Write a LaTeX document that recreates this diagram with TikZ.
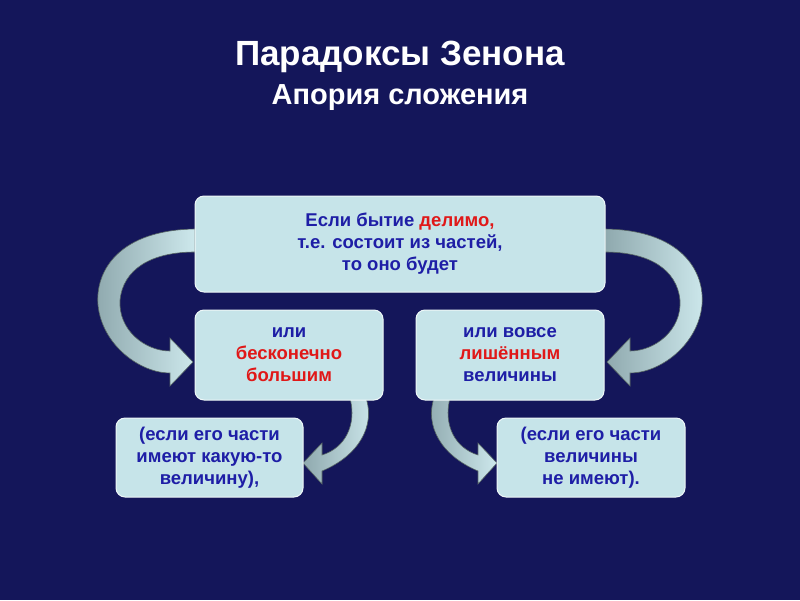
\documentclass[tikz,border=0pt]{standalone}
\usepackage{fontspec}
\setmainfont{Liberation Sans}
\definecolor{bg}{HTML}{14165A}
\definecolor{boxc}{HTML}{C6E4E9}
\definecolor{tblue}{HTML}{1E1EA6}
\definecolor{tred}{HTML}{E01818}
\definecolor{arrl}{HTML}{CDE8EC}
\definecolor{arrd}{HTML}{8FA9AE}
\tikzset{
 bx/.style={draw=white!70!boxc,line width=1pt,fill=boxc,rounded corners=9pt,align=center,
   text=tblue,font=\fontsize{18.5}{22}\selectfont\bfseries,inner sep=0pt},
 barrow/.style={draw=arrd!60!black,line width=0.6pt,left color=arrd,right color=arrl},
}
\begin{document}
\begin{tikzpicture}[x=1pt,y=-1pt]
\fill[bg] (0,0) rectangle (800,600);
\useasboundingbox (0,0) rectangle (800,600);
\node[text=white,font=\fontsize{35}{38}\selectfont\bfseries] (t1) at (400,57) {Парадоксы Зенона};
\node[text=white,font=\fontsize{29}{32}\selectfont\bfseries] (t2) at (400,98) {Апория сложения};
% arrows
\filldraw[barrow] (195,229) .. controls (120,230) and (95,270) .. (98,305) .. controls (102,345) and (140,373) .. (170,373) -- (170,386) -- (193,362) -- (170,338) -- (170,351) .. controls (145,351) and (118,330) .. (120,300) .. controls (123,270) and (150,252) .. (195,252) -- cycle;
\begin{scope}[xshift=800pt,xscale=-1]
\filldraw[barrow] (195,229) .. controls (120,230) and (95,270) .. (98,305) .. controls (102,345) and (140,373) .. (170,373) -- (170,386) -- (193,362) -- (170,338) -- (170,351) .. controls (145,351) and (118,330) .. (120,300) .. controls (123,270) and (150,252) .. (195,252) -- cycle;
\filldraw[barrow] (366,398) .. controls (375,425) and (360,455) .. (322,471) -- (322,484) -- (303,463) -- (322,443) -- (322,455) .. controls (345,448) and (357,425) .. (350,398) -- cycle;
\end{scope}
\filldraw[barrow] (366,398) .. controls (375,425) and (360,455) .. (322,471) -- (322,484) -- (303,463) -- (322,443) -- (322,455) .. controls (345,448) and (357,425) .. (350,398) -- cycle;
% boxes
\node[bx,minimum width=410pt,minimum height=96pt] (top) at (400,244) {Если бытие \textcolor{tred}{делимо,}\\т.е. состоит из частей,\\то оно будет};
\node[bx,minimum width=188pt,minimum height=90pt] (lm) at (289,355) {или\\\textcolor{tred}{бесконечно}\\\textcolor{tred}{большим}};
\node[bx,minimum width=188pt,minimum height=90pt] (rm) at (510,355) {или вовсе\\\textcolor{tred}{лишённым}\\величины};
\node[bx,minimum width=187pt,minimum height=79pt] (lb) at (209.5,457.5) {(если его части\\имеют какую-то\\величину),};
\node[bx,minimum width=188pt,minimum height=79pt] (rb) at (591,457.5) {(если его части\\величины\\не имеют).};
\end{tikzpicture}
\end{document}
